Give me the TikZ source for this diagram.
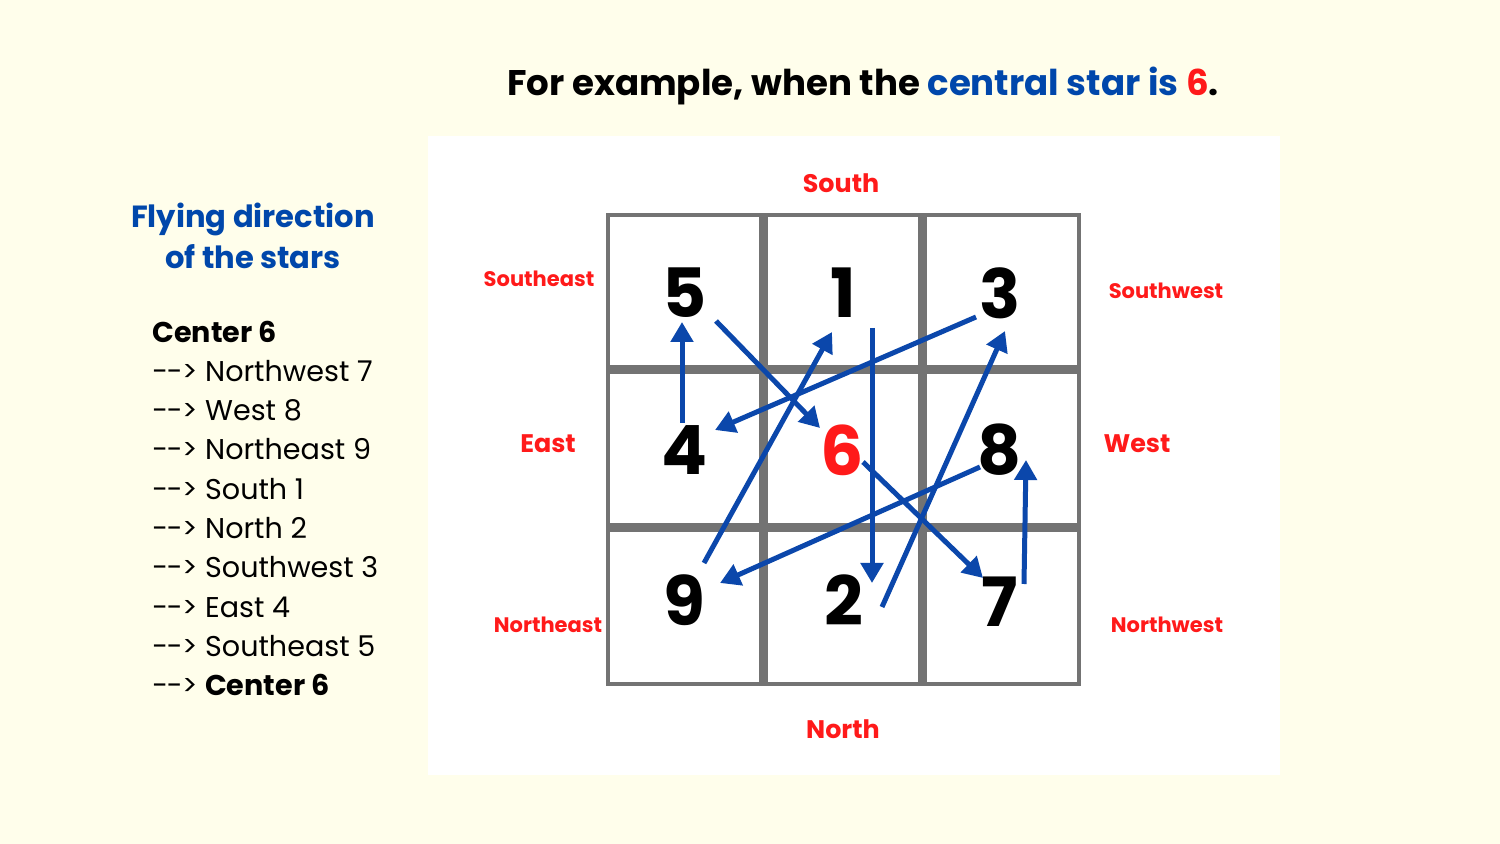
\documentclass[tikz,border=0pt]{standalone}
\usepackage{fontspec}
\setmainfont{Poppins}
\usetikzlibrary{arrows.meta}
\definecolor{bgcream}{HTML}{FFFEEB}
\definecolor{txtblue}{HTML}{0047AB}
\definecolor{arrblue}{HTML}{0B47AB}
\definecolor{dirred}{HTML}{FF1A1A}
\definecolor{gridgray}{HTML}{737373}
\newcommand{\arr}{-\kern-0.6pt-\kern-0.3pt>}
\tikzset{
  digit/.style={font=\fontsize{34}{34}\selectfont\bfseries, text=black, inner sep=0pt},
  dirlab/.style={font=\fontsize{12.7}{14}\selectfont\bfseries, text=dirred, inner sep=0pt},
  dirsmall/.style={font=\fontsize{10.5}{12}\selectfont\bfseries, text=dirred, inner sep=0pt},
  listline/.style={font=\fontsize{14.3}{16}\selectfont, anchor=west, inner sep=0pt},
  flyarrow/.style={draw=arrblue, line width=2.5pt, -{Triangle[length=10pt,width=11pt]}},
}
\begin{document}
\begin{tikzpicture}[x=0.5pt,y=-0.5pt]
\useasboundingbox (0,0) rectangle (1500,844);
\fill[bgcream] (0,0) rectangle (1500,844);
\fill[white] (428,136) rectangle (1280,775);

% title
\node[font=\fontsize{17.8}{20}\selectfont\bfseries, inner sep=0pt] (title) at (863,86)
  {For example, when the \textcolor{txtblue}{central star is} \textcolor{dirred}{6}.};

% left heading
\node[font=\fontsize{15.3}{20.5}\selectfont\bfseries, text=txtblue, align=center, inner sep=0pt] (head) at (253,236)
  {Flying direction\\of the stars};

% list
\node[listline] (l0) at (152,332) {\bfseries Center 6};
\node[listline] (l1) at (152,371) {\arr{} Northwest 7};
\node[listline] (l2) at (152,410) {\arr{} West 8};
\node[listline] (l3) at (152,449) {\arr{} Northeast 9};
\node[listline] (l4) at (152,489) {\arr{} South 1};
\node[listline] (l5) at (152,528) {\arr{} North 2};
\node[listline] (l6) at (152,567) {\arr{} Southwest 3};
\node[listline] (l7) at (152,607) {\arr{} East 4};
\node[listline] (l8) at (152,646) {\arr{} Southeast 5};
\node[listline] (l9) at (152,685) {\arr{} \textbf{Center 6}};

% grid
\draw[gridgray, line width=2pt] (608,215) rectangle (1078.5,684);
\draw[gridgray, line width=4.5pt] (763.5,215) -- (763.5,684);
\draw[gridgray, line width=4.5pt] (922,215) -- (922,684);
\draw[gridgray, line width=4.5pt] (608,369.5) -- (1078.5,369.5);
\draw[gridgray, line width=4.5pt] (608,527.5) -- (1078.5,527.5);

% digits
\node[digit] (n5) at (685,293) {5};
\node[digit] (n1) at (843,293) {1};
\node[digit] (n3) at (1000,293) {3};
\node[digit] (n4) at (685,450) {4};
\node[digit, text=dirred] (n6) at (842,450) {6};
\node[digit] (n8) at (1000,450) {8};
\node[digit] (n9) at (684,600) {9};
\node[digit] (n2) at (844,600) {2};
\node[digit] (n7) at (1000,602) {7};

% direction labels
\node[dirlab] (south) at (841,183) {South};
\node[dirlab] (north) at (843,729) {North};
\node[dirlab] (east) at (548,444) {East};
\node[dirlab] (west) at (1137,444) {West};
\node[dirsmall] (se) at (539,279) {Southeast};
\node[dirsmall] (sw) at (1166,291) {Southwest};
\node[dirsmall] (ne) at (548,625) {Northeast};
\node[dirsmall] (nw) at (1167,625) {Northwest};

% arrow end points
\coordinate (a6s) at (863,462); \coordinate (a7e) at (983,578);
\coordinate (a7s) at (1024,584); \coordinate (a8e) at (1026,460);
\coordinate (a8s) at (980,467); \coordinate (a9e) at (720,583);
\coordinate (a9s) at (704,563); \coordinate (a1e) at (832,332);
\coordinate (a1s) at (872,328); \coordinate (a2e) at (872,583);
\coordinate (a2s) at (882,607); \coordinate (a3e) at (1005,331);
\coordinate (a3s) at (976,317); \coordinate (a4e) at (715,430);
\coordinate (a4s) at (682,423); \coordinate (a5e) at (682,322);
\coordinate (a5s) at (716,321); \coordinate (a6e) at (820,428);

\draw[flyarrow] (a6s) -- (a7e);
\draw[flyarrow] (a7s) -- (a8e);
\draw[flyarrow] (a8s) -- (a9e);
\draw[flyarrow] (a9s) -- (a1e);
\draw[flyarrow] (a1s) -- (a2e);
\draw[flyarrow] (a2s) -- (a3e);
\draw[flyarrow] (a3s) -- (a4e);
\draw[flyarrow] (a4s) -- (a5e);
\draw[flyarrow] (a5s) -- (a6e);
\end{tikzpicture}
\end{document}
